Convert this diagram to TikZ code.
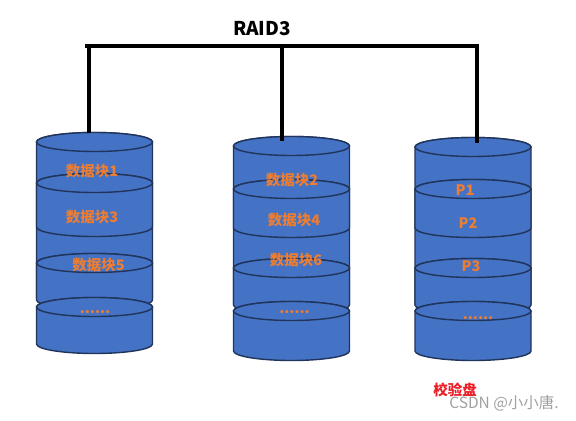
\documentclass[tikz,border=0pt]{standalone}
\usepackage{fontspec}
\usepackage{tikz}
\usetikzlibrary{arrows.meta,calc,positioning}
\newfontfamily\cjk{Noto Sans CJK SC}
\definecolor{DrumBlue}{RGB}{68,114,196}
\definecolor{DrumEdge}{RGB}{32,52,92}
\definecolor{BlockOrange}{RGB}{237,125,49}
\definecolor{ParityRed}{RGB}{235,30,40}
\definecolor{MarkGray}{RGB}{160,160,160}
% one slice of a disk: centre x, top y, bottom y
\newcommand{\drumseg}[3]{%
  \filldraw[drum] (#1-58,#2) -- (#1-58,#3)
    arc[start angle=180, end angle=360, x radius=58, y radius=9.5]
    -- (#1+58,#2)
    arc[start angle=0, end angle=180, x radius=58, y radius=9.5] -- cycle;
  \draw[drum] (#1,#2) ellipse[x radius=58, y radius=9.5];}

\begin{document}
\begin{tikzpicture}[x=0.025cm, y=0.025cm,
    drum/.style={draw=DrumEdge, fill=DrumBlue, line width=1pt},
    bus/.style={draw=black, line width=2.2pt},
    blk/.style={text=BlockOrange, font=\cjk\bfseries\fontsize{10.3}{12}\selectfont},
    every node/.style={inner sep=0pt}]
\useasboundingbox (0,0) rectangle (576,420);

% the three disks
\foreach \t/\b in {278/122,237/193,157/120,113/76} \drumseg{94.5}{\t}{\b};
\foreach \t/\b in {274/116,231/192,152/115,109/69} \drumseg{291.5}{\t}{\b};
\foreach \t/\b in {273/116,231/192,152/115,109/69} \drumseg{473}{\t}{\b};

% bus
\node[font=\cjk\bfseries\fontsize{13.5}{15}\selectfont] (title) at (262,391) {RAID3};
\coordinate (busL) at (85,374);
\coordinate (busR) at (479,374);
\coordinate (top1) at (89,287);
\coordinate (top2) at (282,279);
\coordinate (top3) at (477,277);
\draw[bus] (busL) -- (busR);
\foreach \n in {1,2,3}
    \draw[bus] (top\n |- busL) -- (top\n);

% blocks
\node[blk] (b1) at (92,249) {数据块1};
\node[blk] (b3) at (92,203) {数据块3};
\node[blk] (b5) at (98.5,155) {数据块5};
\node[blk, anchor=base] (d1) at (95,106) {......};
\node[blk] (b2) at (292,240) {数据块2};
\node[blk] (b4) at (294,200) {数据块4};
\node[blk] (b6) at (296,160) {数据块6};
\node[blk, anchor=base] (d2) at (294.5,106) {......};
\node[blk] (p1) at (465,230) {P1};
\node[blk] (p2) at (468,197) {P2};
\node[blk] (p3) at (471,154) {P3};
\node[blk, anchor=base] (d3) at (478,100) {......};

\node[text=ParityRed, font=\cjk\bfseries\fontsize{10.3}{12}\selectfont] (parity) at (455,30) {校验盘};
\node[text=MarkGray, font=\cjk\fontsize{11}{13}\selectfont] (mark) at (504,17) {CSDN @小小唐.};
\end{tikzpicture}
\end{document}
